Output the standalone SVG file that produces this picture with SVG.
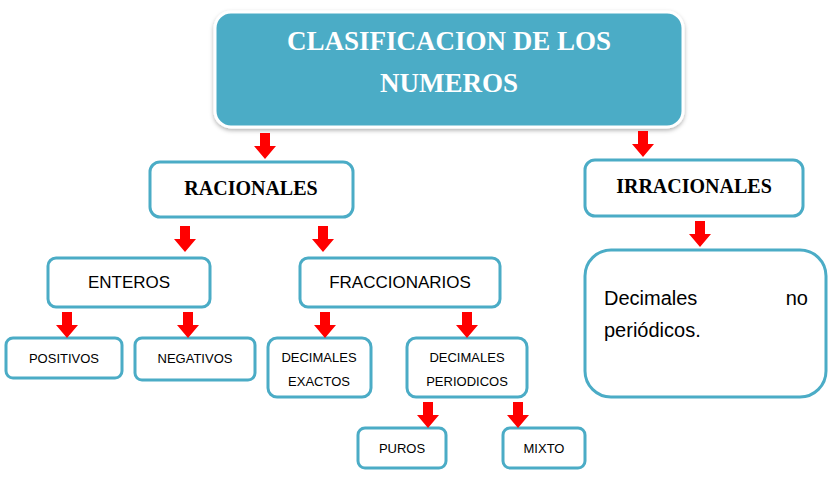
<svg xmlns="http://www.w3.org/2000/svg" width="837" height="480" viewBox="0 0 837 480">
<defs>
<filter id="sh" x="-10%" y="-10%" width="120%" height="130%"><feDropShadow dx="0" dy="2" stdDeviation="2" flood-color="#000" flood-opacity="0.3"/></filter>
<path id="arr" d="M-5,0 H5 V13 H11 L0,26 L-11,13 H-5 Z" fill="#ff0000"/>
</defs>
<style>
.b{fill:#fff;stroke:#4bacc6;stroke-width:3}
.t{font-family:"Liberation Serif",serif;font-weight:bold;text-anchor:middle;fill:#000}
.s{font-family:"Liberation Sans",Arial,sans-serif;text-anchor:middle;fill:#000}
</style>
<g id="title">
<rect x="215" y="12" width="468" height="115" rx="16" fill="#4bacc6" stroke="#fff" stroke-width="3" filter="url(#sh)"/>
<text class="t" x="449" y="50" font-size="27" fill="#fff" style="fill:#fff">CLASIFICACION DE LOS</text>
<text class="t" x="449" y="92" font-size="27" style="fill:#fff">NUMEROS</text>
</g>
<g id="racionales"><rect class="b" x="150" y="162" width="203" height="55" rx="10"/><text class="t" x="251" y="195" font-size="20">RACIONALES</text></g>
<g id="irracionales"><rect class="b" x="585" y="160" width="218" height="56" rx="10"/><text class="t" x="694" y="193" font-size="20">IRRACIONALES</text></g>
<g id="enteros"><rect class="b" x="48" y="258" width="162" height="49" rx="8"/><text class="s" x="129" y="288" font-size="17">ENTEROS</text></g>
<g id="fraccionarios"><rect class="b" x="300" y="258" width="200" height="49" rx="8"/><text class="s" x="400" y="288" font-size="17">FRACCIONARIOS</text></g>
<g id="positivos"><rect class="b" x="6" y="338" width="116" height="40" rx="7"/><text class="s" x="64" y="363" font-size="13">POSITIVOS</text></g>
<g id="negativos"><rect class="b" x="135" y="338" width="120" height="42" rx="7"/><text class="s" x="195" y="363" font-size="13">NEGATIVOS</text></g>
<g id="exactos"><rect class="b" x="268" y="338" width="103" height="59" rx="9"/><text class="s" x="319" y="362" font-size="13">DECIMALES</text><text class="s" x="319" y="386" font-size="13">EXACTOS</text></g>
<g id="periodicos"><rect class="b" x="407" y="338" width="120" height="59" rx="9"/><text class="s" x="467" y="362" font-size="13">DECIMALES</text><text class="s" x="467" y="386" font-size="13">PERIODICOS</text></g>
<g id="puros"><rect class="b" x="358" y="428" width="88" height="40" rx="7"/><text class="s" x="402" y="453" font-size="13">PUROS</text></g>
<g id="mixto"><rect class="b" x="503" y="428" width="82" height="40" rx="7"/><text class="s" x="544" y="453" font-size="13">MIXTO</text></g>
<g id="noperiodicos"><rect class="b" x="585" y="250" width="241" height="147" rx="26"/>
<text x="604" y="305" font-family="Liberation Sans,Arial,sans-serif" font-size="20">Decimales</text><text x="808" y="305" font-family="Liberation Sans,Arial,sans-serif" font-size="20" text-anchor="end">no</text>
<text x="604" y="337" font-family="Liberation Sans,Arial,sans-serif" font-size="20">periódicos.</text></g>
<g id="connectors">
<use href="#arr" x="265" y="133"/><use href="#arr" x="643" y="131"/>
<use href="#arr" x="185" y="226"/><use href="#arr" x="323" y="226"/><use href="#arr" x="700" y="221"/>
<use href="#arr" x="67" y="312"/><use href="#arr" x="188" y="312"/><use href="#arr" x="325" y="312"/><use href="#arr" x="467" y="312"/>
<use href="#arr" x="428" y="402"/><use href="#arr" x="518" y="402"/>
</g>
</svg>
